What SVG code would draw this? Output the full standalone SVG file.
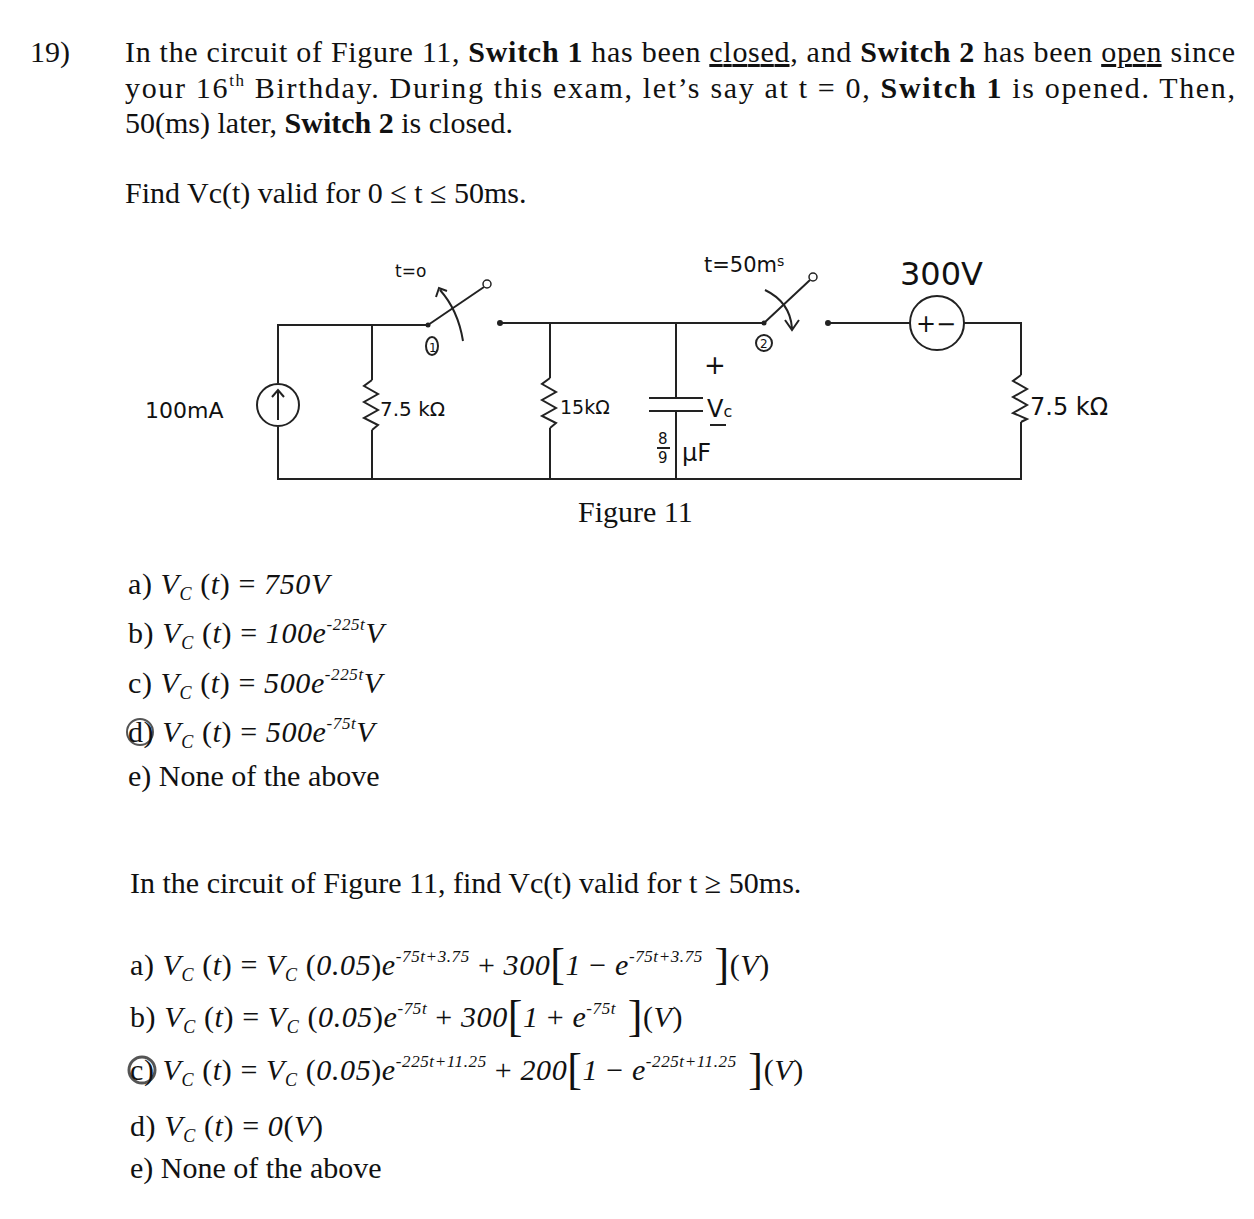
<svg xmlns="http://www.w3.org/2000/svg" width="1254" height="1219" viewBox="0 0 1254 1219">
<style>
.t{font-family:"Liberation Serif",serif;font-size:30px;fill:#111}
.m{font-family:"Liberation Serif",serif;font-size:30px;fill:#111;letter-spacing:0.6px}
.i{font-style:italic}
.sup{font-size:17px;font-style:italic}
.sub{font-size:18px;font-style:italic}
.h{font-family:"DejaVu Sans",sans-serif;fill:#111}
.w{stroke:#222;stroke-width:2;fill:none}
.br{font-family:"Liberation Serif",serif;font-size:44px;fill:#111}
</style>
<rect width="1254" height="1219" fill="#fff"/>
<g id="question">
<text class="t" x="30" y="62">19)</text>
<text class="t" x="125" y="62" textLength="1110" lengthAdjust="spacing">In the circuit of Figure 11, <tspan font-weight="bold">Switch 1</tspan> has been <tspan text-decoration="underline">closed</tspan>, and <tspan font-weight="bold">Switch 2</tspan> has been <tspan text-decoration="underline">open</tspan> since</text>
<text class="t" x="125" y="98" textLength="1110" lengthAdjust="spacing">your 16<tspan font-size="17" dy="-12">th</tspan><tspan dy="12"> Birthday.  During this exam, let’s say at t = 0, </tspan><tspan font-weight="bold">Switch 1</tspan> is opened.  Then,</text>
<text class="t" x="125" y="133">50(ms) later, <tspan font-weight="bold">Switch 2</tspan> is closed.</text>
<text class="t" x="125" y="203">Find Vc(t) valid for 0 ≤ t ≤ 50ms.</text>
</g>
<g id="connectors">
<polyline class="w" points="428,325 278,325 278,383"/>
<polyline class="w" points="278,427 278,479 1021,479 1021,422"/>
<polyline class="w" points="1021,375 1021,323 964,323"/>
<line class="w" x1="500" y1="323" x2="764" y2="323"/>
<line class="w" x1="828" y1="323" x2="910" y2="323"/>
<line class="w" x1="372" y1="325" x2="372" y2="380"/>
<line class="w" x1="372" y1="430" x2="372" y2="479"/>
<line class="w" x1="550" y1="323" x2="550" y2="378"/>
<line class="w" x1="550" y1="428" x2="550" y2="479"/>
<line class="w" x1="676" y1="323" x2="676" y2="398"/>
<line class="w" x1="676" y1="411" x2="676" y2="479"/>
</g>
<g id="source1">
<circle class="w" cx="278" cy="405" r="21"/>
<path class="w" d="M278,420 V391 M272,397 L278,390 284,397"/>
<text class="h" x="145" y="418" font-size="22">100mA</text>
</g>
<g id="r1">
<path class="w" d="M372,380 L364,386 378,394 364,402 378,410 364,418 378,425 372,430"/>
<text class="h" x="380" y="416" font-size="20">7.5 kΩ</text>
</g>
<g id="switch1">
<circle cx="428" cy="325" r="2.5" fill="#222"/>
<circle cx="500" cy="323" r="3" fill="#222"/>
<line class="w" x1="428" y1="325" x2="484" y2="287"/>
<circle cx="487" cy="284" r="4" fill="#fff" stroke="#222" stroke-width="1.5"/>
<path class="w" d="M463,341 Q458,310 440,290 M436,297 L439,288 447,291"/>
<text class="h" x="395" y="277" font-size="17">t=o</text>
<ellipse class="w" cx="432" cy="346" rx="6" ry="9" stroke-width="1.3"/>
<text class="h" x="429" y="352" font-size="12">1</text>
</g>
<g id="r2">
<path class="w" d="M550,378 L542,384 556,392 542,400 556,408 542,416 556,423 550,428"/>
<text class="h" x="560" y="414" font-size="19">15kΩ</text>
</g>
<g id="cap">
<line class="w" x1="649" y1="398" x2="703" y2="398"/>
<line class="w" x1="649" y1="411" x2="703" y2="411"/>
<text class="h" x="704" y="374" font-size="26">+</text>
<text class="h" x="707" y="417" font-size="24">V<tspan font-size="16">c</tspan></text>
<line class="w" x1="710" y1="425" x2="726" y2="425"/>
<text class="h" x="658" y="444" font-size="15">8</text>
<line class="w" x1="657" y1="448" x2="670" y2="448" stroke-width="1.5"/>
<text class="h" x="658" y="463" font-size="15">9</text>
<text class="h" x="682" y="461" font-size="24">μF</text>
</g>
<g id="switch2">
<circle cx="764" cy="323" r="2.5" fill="#222"/>
<circle cx="828" cy="323" r="3" fill="#222"/>
<line class="w" x1="764" y1="323" x2="810" y2="280"/>
<circle cx="813" cy="277" r="4" fill="#fff" stroke="#222" stroke-width="1.5"/>
<path class="w" d="M765,290 Q790,302 792,328 M785,320 L792,330 799,320"/>
<text class="h" x="704" y="272" font-size="21">t=50m<tspan font-size="14" dy="-6">s</tspan></text>
<circle class="w" cx="764" cy="343" r="8" stroke-width="1.3"/>
<text class="h" x="760" y="348" font-size="12">2</text>
</g>
<g id="source2">
<circle class="w" cx="937" cy="323" r="27"/>
<text class="h" x="916" y="332" font-size="24">+−</text>
<text class="h" x="900" y="285" font-size="32">300V</text>
</g>
<g id="r3">
<path class="w" d="M1021,375 L1013,381 1027,389 1013,397 1027,405 1013,413 1027,419 1021,422"/>
<text class="h" x="1030" y="415" font-size="24">7.5 kΩ</text>
</g>
<text class="t" x="578" y="522">Figure 11</text>
<g id="answers1">
<text class="m" x="128" y="594">a) <tspan class="i">V</tspan><tspan class="sub" dy="6">C</tspan><tspan dy="-6"> (</tspan><tspan class="i">t</tspan>) = <tspan class="i">750V</tspan></text>
<text class="m" x="128" y="643">b) <tspan class="i">V</tspan><tspan class="sub" dy="6">C</tspan><tspan dy="-6"> (</tspan><tspan class="i">t</tspan>) = <tspan class="i">100e</tspan><tspan class="sup" dy="-13">-225t</tspan><tspan class="i" dy="13">V</tspan></text>
<text class="m" x="128" y="693">c) <tspan class="i">V</tspan><tspan class="sub" dy="6">C</tspan><tspan dy="-6"> (</tspan><tspan class="i">t</tspan>) = <tspan class="i">500e</tspan><tspan class="sup" dy="-13">-225t</tspan><tspan class="i" dy="13">V</tspan></text>
<circle cx="140" cy="732" r="13" fill="none" stroke="#555" stroke-width="2"/>
<text class="m" x="128" y="742">d) <tspan class="i">V</tspan><tspan class="sub" dy="6">C</tspan><tspan dy="-6"> (</tspan><tspan class="i">t</tspan>) = <tspan class="i">500e</tspan><tspan class="sup" dy="-13">-75t</tspan><tspan class="i" dy="13">V</tspan></text>
<text class="t" x="128" y="786">e) None of the above</text>
</g>
<text class="t" x="130" y="893">In the circuit of Figure 11, find Vc(t) valid for t ≥ 50ms.</text>
<g id="answers2">
<text class="m" x="130" y="975">a) <tspan class="i">V</tspan><tspan class="sub" dy="6">C</tspan><tspan dy="-6"> (</tspan><tspan class="i">t</tspan>) = <tspan class="i">V</tspan><tspan class="sub" dy="6">C</tspan><tspan dy="-6"> (</tspan><tspan class="i">0.05</tspan>)<tspan class="i">e</tspan><tspan class="sup" dy="-13">-75t+3.75</tspan><tspan dy="13"> + </tspan><tspan class="i">300</tspan><tspan class="br" dy="4">[</tspan><tspan class="i" dy="-4">1</tspan> − <tspan class="i">e</tspan><tspan class="sup" dy="-13">-75t+3.75</tspan><tspan class="br" dy="17"> ]</tspan><tspan dy="-4">(</tspan><tspan class="i">V</tspan>)</text>
<text class="m" x="130" y="1027">b) <tspan class="i">V</tspan><tspan class="sub" dy="6">C</tspan><tspan dy="-6"> (</tspan><tspan class="i">t</tspan>) = <tspan class="i">V</tspan><tspan class="sub" dy="6">C</tspan><tspan dy="-6"> (</tspan><tspan class="i">0.05</tspan>)<tspan class="i">e</tspan><tspan class="sup" dy="-13">-75t</tspan><tspan dy="13"> + </tspan><tspan class="i">300</tspan><tspan class="br" dy="4">[</tspan><tspan class="i" dy="-4">1</tspan> + <tspan class="i">e</tspan><tspan class="sup" dy="-13">-75t</tspan><tspan class="br" dy="17"> ]</tspan><tspan dy="-4">(</tspan><tspan class="i">V</tspan>)</text>
<circle cx="142" cy="1070" r="13" fill="none" stroke="#555" stroke-width="3"/>
<text class="m" x="130" y="1080">c) <tspan class="i">V</tspan><tspan class="sub" dy="6">C</tspan><tspan dy="-6"> (</tspan><tspan class="i">t</tspan>) = <tspan class="i">V</tspan><tspan class="sub" dy="6">C</tspan><tspan dy="-6"> (</tspan><tspan class="i">0.05</tspan>)<tspan class="i">e</tspan><tspan class="sup" dy="-13">-225t+11.25</tspan><tspan dy="13"> + </tspan><tspan class="i">200</tspan><tspan class="br" dy="4">[</tspan><tspan class="i" dy="-4">1</tspan> − <tspan class="i">e</tspan><tspan class="sup" dy="-13">-225t+11.25</tspan><tspan class="br" dy="17"> ]</tspan><tspan dy="-4">(</tspan><tspan class="i">V</tspan>)</text>
<text class="m" x="130" y="1136">d) <tspan class="i">V</tspan><tspan class="sub" dy="6">C</tspan><tspan dy="-6"> (</tspan><tspan class="i">t</tspan>) = <tspan class="i">0</tspan>(<tspan class="i">V</tspan>)</text>
<text class="t" x="130" y="1178">e) None of the above</text>
</g>
</svg>
